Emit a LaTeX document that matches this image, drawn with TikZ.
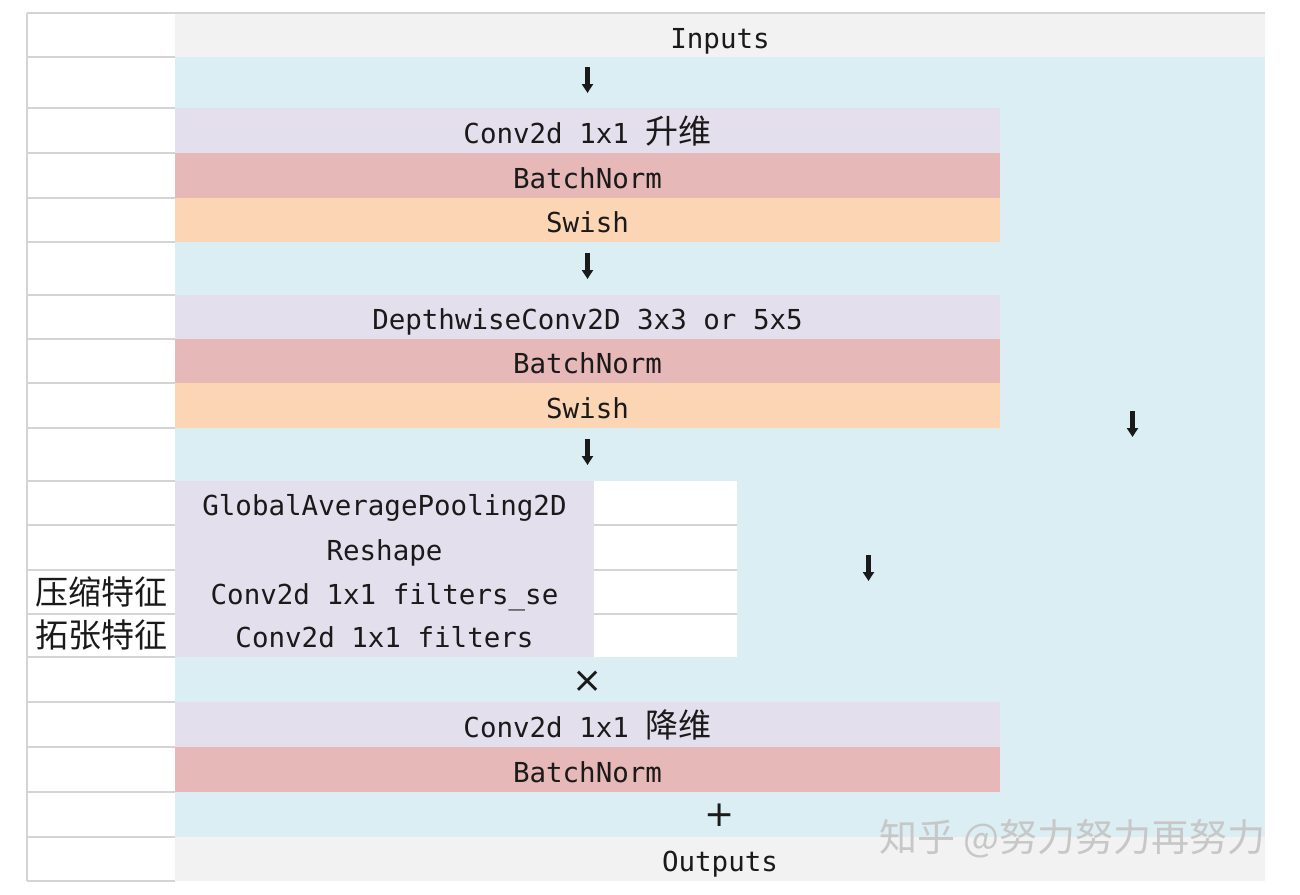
\documentclass[tikz,border=0pt]{standalone}
\usepackage{fontspec}
\setmainfont{DejaVu Sans Mono}
\newfontfamily\zhfont{Noto Sans CJK SC}
\newfontfamily\symfont{DejaVu Sans}
\usetikzlibrary{arrows.meta}

\definecolor{iogray}{HTML}{F2F2F2}
\definecolor{flowblue}{HTML}{DAEEF3}
\definecolor{convlav}{HTML}{E4DFEC}
\definecolor{bnred}{HTML}{E6B8B7}
\definecolor{swishorange}{HTML}{FCD5B4}
\definecolor{gridgray}{HTML}{D4D4D4}
\definecolor{inkblack}{HTML}{1A1A1A}

\newcommand{\zh}[1]{{\fontsize{33}{40}\zhfont #1}}

\tikzset{
  layertext/.style={anchor=base,inner sep=0pt,text=inkblack,font=\fontsize{27.5}{33}\selectfont},
  sidelabel/.style={anchor=base,inner sep=0pt,text=inkblack,font=\fontsize{33}{40}\zhfont},
  optext/.style={anchor=base,inner sep=0pt,text=inkblack,font=\fontsize{36}{42}\symfont},
  flowarrow/.style={-{Triangle[length=9pt,width=11pt]},line width=4.4pt,inkblack},
  gridline/.style={gridgray,line width=1.2pt}
}

\begin{document}
\begin{tikzpicture}[x=1pt,y=-1pt]
        \useasboundingbox (0,0) rectangle (1300,894);
        % cell fills
        \fill[iogray] (175,13) rectangle (1265,57);
        \fill[flowblue] (175,57) rectangle (1265,837);
        \fill[iogray] (175,837) rectangle (1265,881);
        \fill[convlav] (175,108) rectangle (1000,153);
        \fill[bnred] (175,153) rectangle (1000,198);
        \fill[swishorange] (175,198) rectangle (1000,242);
        \fill[convlav] (175,295) rectangle (1000,339);
        \fill[bnred] (175,339) rectangle (1000,383);
        \fill[swishorange] (175,383) rectangle (1000,428);
        \fill[convlav] (175,481) rectangle (594,657);
        \fill[white] (594,481) rectangle (737,657);
        \fill[convlav] (175,702) rectangle (1000,747);
        \fill[bnred] (175,747) rectangle (1000,792);
        % grid lines
        \draw[gridline] (27,13) -- (1265,13);
        \draw[gridline] (27,13) -- (27,881);
        \draw[gridline] (27,57) -- (175,57) (27,108) -- (175,108) (27,153) -- (175,153)
                (27,198) -- (175,198) (27,242) -- (175,242) (27,295) -- (175,295)
                (27,339) -- (175,339) (27,383) -- (175,383) (27,428) -- (175,428)
                (27,481) -- (175,481) (27,525) -- (175,525) (27,570) -- (175,570)
                (27,614) -- (175,614) (27,657) -- (175,657) (27,702) -- (175,702)
                (27,747) -- (175,747) (27,792) -- (175,792) (27,837) -- (175,837)
                (27,881) -- (175,881);
        \draw[gridline] (594,525) -- (737,525) (594,570) -- (737,570) (594,614) -- (737,614);
        % layer texts
        \node[layertext] (inputs) at (720,48) {Inputs};
        \node[layertext] (conv1) at (587.5,143) {Conv2d 1x1 \zh{升维}};
        \node[layertext] (bn1) at (587.5,188) {BatchNorm};
        \node[layertext] (swish1) at (587.5,232) {Swish};
        \node[layertext] (dwconv) at (587.5,329) {DepthwiseConv2D 3x3 or 5x5};
        \node[layertext] (bn2) at (587.5,373) {BatchNorm};
        \node[layertext] (swish2) at (587.5,418) {Swish};
        \node[layertext] (gap) at (384.5,515) {GlobalAveragePooling2D};
        \node[layertext] (reshape) at (384.5,560) {Reshape};
        \node[layertext] (squeeze) at (384.5,604) {Conv2d 1x1 filters\_se};
        \node[layertext] (expand) at (384.5,647) {Conv2d 1x1 filters};
        \node[optext] (times) at (587.5,692) {×};
        \node[layertext] (conv2) at (587.5,737) {Conv2d 1x1 \zh{降维}};
        \node[layertext] (bn3) at (587.5,782) {BatchNorm};
        \node[optext] (plus) at (720,826) {+};
        \node[layertext] (outputs) at (720,871) {Outputs};
        % side labels
        \node[sidelabel] (lblsqueeze) at (101,604) {压缩特征};
        \node[sidelabel] (lblexpand) at (101,647) {拓张特征};
        % flow arrows
        \coordinate (a1top) at (587.5,67);
        \coordinate (a1bot) at (587.5,93);
        \draw[flowarrow] (a1top) -- (a1bot);
        \coordinate (a2top) at (587.5,253);
        \coordinate (a2bot) at (587.5,279);
        \draw[flowarrow] (a2top) -- (a2bot);
        \coordinate (a3top) at (587.5,439);
        \coordinate (a3bot) at (587.5,465);
        \draw[flowarrow] (a3top) -- (a3bot);
        \coordinate (setop) at (868.5,555);
        \coordinate (sebot) at (868.5,581);
        \draw[flowarrow] (setop) -- (sebot);
        \coordinate (skiptop) at (1132.5,411);
        \coordinate (skipbot) at (1132.5,437);
        \draw[flowarrow] (skiptop) -- (skipbot);
        % watermark
        \node[anchor=base east,inner sep=0pt,text=black!22,font=\fontsize{38}{44}\zhfont] (mark) at (1266,851) {知乎 @努力努力再努力};
    \end{tikzpicture}
\end{document}
